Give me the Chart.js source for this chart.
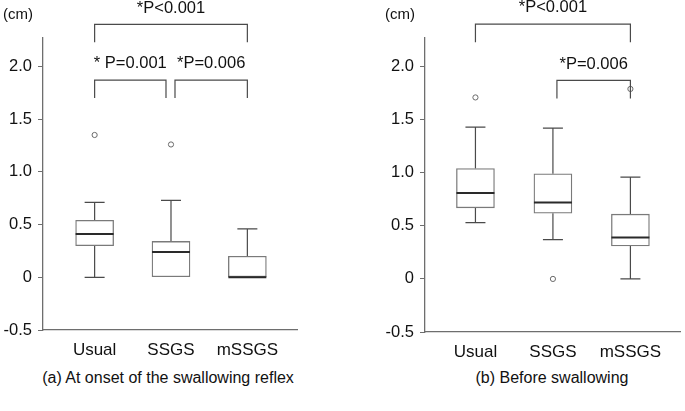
<!DOCTYPE html>
<html>
<head>
<meta charset="utf-8">
<script src="https://cdn.jsdelivr.net/npm/chart.js@4.4.1/dist/chart.umd.min.js"></script>
<style>
  html, body { margin: 0; padding: 0; background: #fff; }
  #wrap { position: relative; width: 685px; height: 411px; overflow: hidden; font-family: "Liberation Sans", Arial, sans-serif; }
  canvas { position: absolute; top: 0; }
  #chartA { left: 0; }
  #chartB { left: 340px; }
  .caption { position: absolute; top: 368px; font-size: 16px; line-height: 20px; color: #111; text-align: center; white-space: nowrap; }
</style>
</head>
<body>
<div id="wrap">
  <canvas id="chartA" width="340" height="365"></canvas>
  <canvas id="chartB" width="345" height="365"></canvas>
  <div class="caption" style="left:18px;width:300px;">(a) At onset of the swallowing reflex</div>
  <div class="caption" style="left:402px;width:300px;">(b) Before swallowing</div>
</div>
<script>
const categories = ["Usual", "SSGS", "mSSGS"];
const yTicks = [-0.5, 0, 0.5, 1.0, 1.5, 2.0];

// (a) at onset of the swallowing reflex
const onsetMin = [0, 0, 0];
const onsetQ1 = [0.30, 0, 0];
const onsetMedian = [0.41, 0.24, 0];
const onsetQ3 = [0.54, 0.34, 0.20];
const onsetMax = [0.71, 0.73, 0.46];
const onsetOutliers = [[1.35], [1.26], []];
const onsetPairs = [[0, 2], [0, 1], [1, 2]];
const onsetPLabels = ["*P<0.001", "* P=0.001", "*P=0.006"];
const onsetTiers = [0, 1, 1];

// (b) before swallowing
const beforeMin = [0.53, 0.37, 0];
const beforeQ1 = [0.67, 0.62, 0.31];
const beforeMedian = [0.81, 0.72, 0.39];
const beforeQ3 = [1.04, 0.99, 0.61];
const beforeMax = [1.43, 1.42, 0.96];
const beforeOutliers = [[1.71], [0], [1.79]];
const beforePairs = [[0, 2], [1, 2]];
const beforePLabels = ["*P<0.001", "*P=0.006"];
const beforeTiers = [0, 1];

const FONT = "'Liberation Sans', Arial, sans-serif";
const LINE = "#6e6e6e";

function makeBoxPlugin(s) {
  const tierTop = [2.40, 1.87];
  const legDrop = 0.17;
  return {
    id: "boxParts",
    beforeDatasetsDraw(chart) {
      const { ctx, scales: { x, y } } = chart;
      ctx.save();
      ctx.strokeStyle = "#4a4a4a";
      ctx.lineWidth = 1.2;
      s.min.forEach((_, i) => {
        const cx = x.getPixelForValue(i + 1);
        [[s.q3[i], s.max[i]], [s.q1[i], s.min[i]]].forEach(([from, to]) => {
          if (from === to) return;
          ctx.beginPath();
          ctx.moveTo(cx, y.getPixelForValue(from));
          ctx.lineTo(cx, y.getPixelForValue(to));
          ctx.moveTo(cx - 10, y.getPixelForValue(to));
          ctx.lineTo(cx + 10, y.getPixelForValue(to));
          ctx.stroke();
        });
      });
      ctx.restore();
    },
    afterDatasetsDraw(chart) {
      const { ctx, scales: { x, y } } = chart;
      ctx.save();
      ctx.strokeStyle = "#2a2a2a";
      ctx.lineWidth = 2;
      s.median.forEach((m, i) => {
        const cx = x.getPixelForValue(i + 1);
        const py = y.getPixelForValue(m);
        ctx.beginPath();
        ctx.moveTo(cx - 19, py);
        ctx.lineTo(cx + 19, py);
        ctx.stroke();
      });
      ctx.restore();
    },
    afterDraw(chart) {
      const { ctx, chartArea, scales: { x, y } } = chart;
      ctx.save();
      ctx.strokeStyle = "#4a4a4a";
      ctx.lineWidth = 1.2;
      ctx.fillStyle = "#111";
      ctx.font = "16.5px " + FONT;
      ctx.textAlign = "center";
      ctx.textBaseline = "middle";
      s.pairs.forEach(([a, b], k) => {
        const tier = s.tiers[k];
        const x1 = x.getPixelForValue(a + 1) + (a === 1 ? 4 : 0);
        const x2 = x.getPixelForValue(b + 1) - (b === 1 ? 5 : 0);
        const top = y.getPixelForValue(tierTop[tier]);
        const leg = y.getPixelForValue(tierTop[tier] - legDrop);
        ctx.beginPath();
        ctx.moveTo(x1, leg);
        ctx.lineTo(x1, top);
        ctx.lineTo(x2, top);
        ctx.lineTo(x2, leg);
        ctx.stroke();
        ctx.fillText(s.pLabels[k], (x1 + x2) / 2, y.getPixelForValue(tierTop[tier] + 0.155));
      });
      ctx.font = "15px " + FONT;
      ctx.textAlign = "right";
      ctx.fillText("(cm)", chartArea.left - 10, 15);
      ctx.restore();
    }
  };
}

function buildChart(id, s, xMin, xMax, yAxisWidth, xAxisHeight, padRight) {
  const boxes = categories.map((_, i) => ({ x: i + 1, y: [s.q1[i], s.q3[i]] }));
  const outliers = [];
  s.outliers.forEach((vals, i) => vals.forEach(v => outliers.push({ x: i + 1, y: v })));

  return new Chart(document.getElementById(id), {
    type: "bar",
    data: {
      datasets: [
        {
          data: boxes,
          backgroundColor: "#ffffff",
          borderColor: "#7a7a7a",
          borderWidth: 1.3,
          borderSkipped: false,
          barThickness: 38,
        },
        {
          type: "scatter",
          data: outliers,
          pointStyle: "circle",
          pointRadius: 2.6,
          pointBackgroundColor: "#ffffff",
          pointBorderColor: "#6a6a6a",
          pointBorderWidth: 1,
        },
      ],
    },
    options: {
      responsive: false,
      animation: false,
      layout: { padding: { top: 38, left: 0, right: padRight, bottom: 0 } },
      plugins: { legend: { display: false }, tooltip: { enabled: false } },
      scales: {
        x: {
          type: "linear",
          offset: false,
          min: xMin,
          max: xMax,
          afterBuildTicks: (scale) => { scale.ticks = categories.map((_, i) => ({ value: i + 1 })); },
          afterFit: (scale) => { scale.height = xAxisHeight; },
          ticks: {
            color: "#111",
            padding: 10,
            font: { size: 17, family: FONT },
            callback: (v) => categories[v - 1],
          },
          grid: { display: false, drawTicks: false },
          border: { display: true, color: LINE, width: 1.3 },
        },
        y: {
          min: -0.5,
          max: 2.27,
          afterBuildTicks: (scale) => { scale.ticks = yTicks.map(v => ({ value: v })); },
          afterFit: (scale) => { scale.width = yAxisWidth; },
          ticks: {
            color: "#111",
            padding: 6,
            font: { size: 16.5, family: FONT },
            callback: (v) => (v === 0 ? "0" : v.toFixed(1)),
          },
          grid: { drawOnChartArea: false, drawTicks: true, tickLength: 5, color: LINE },
          border: { display: true, color: LINE, width: 1.3 },
        },
      },
    },
    plugins: [makeBoxPlugin(s)],
  });
}

buildChart("chartA", {
  min: onsetMin, q1: onsetQ1, median: onsetMedian, q3: onsetQ3, max: onsetMax,
  outliers: onsetOutliers, pairs: onsetPairs, pLabels: onsetPLabels, tiers: onsetTiers,
}, 0.324, 3.65, 43, 35, 43);

buildChart("chartB", {
  min: beforeMin, q1: beforeQ1, median: beforeMedian, q3: beforeQ3, max: beforeMax,
  outliers: beforeOutliers, pairs: beforePairs, pLabels: beforePLabels, tiers: beforeTiers,
}, 0.349, 3.64, 85, 33, 2);
</script>
</body>
</html>
